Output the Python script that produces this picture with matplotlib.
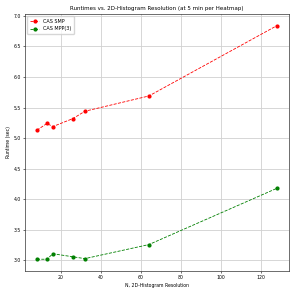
import matplotlib
matplotlib.use("Agg")
import matplotlib.pyplot as plt

resolution = [8, 13, 16, 26, 32, 64, 128]
smp_runtime = [5.13, 5.24, 5.19, 5.32, 5.44, 5.69, 6.84]
mpp_runtime = [3.02, 3.02, 3.11, 3.06, 3.03, 3.26, 4.18]

fig = plt.figure(figsize=(3, 2.91), dpi=100)
ax = fig.add_axes([0.083, 0.069, 0.88, 0.883])

ax.plot(resolution, smp_runtime, 'o--', color='red', markersize=2, linewidth=0.6, label='CAS SMP')
ax.plot(resolution, mpp_runtime, 'o--', color='green', markersize=2, linewidth=0.6, label='CAS MPP(3)')

ax.set_title('Runtimes vs. 2D-Histogram Resolution (at 5 min per Heatmap)', fontsize=4, pad=3)
ax.set_xlabel('N, 2D-Histogram Resolution', fontsize=3.3, labelpad=2)
ax.set_ylabel('Runtime (sec)', fontsize=3.3, labelpad=2)
ax.tick_params(labelsize=3.3, length=1.5, width=0.4, pad=1.5)
ax.grid(True, color='#d0d0d0', linewidth=0.6)
for s in ax.spines.values():
    s.set_linewidth(0.5)
    s.set_color('#333333')
ax.legend(loc='upper left', fontsize=3.5, frameon=True, handlelength=2, borderpad=0.5, labelspacing=0.5)

fig.savefig('out.png', dpi=100)
